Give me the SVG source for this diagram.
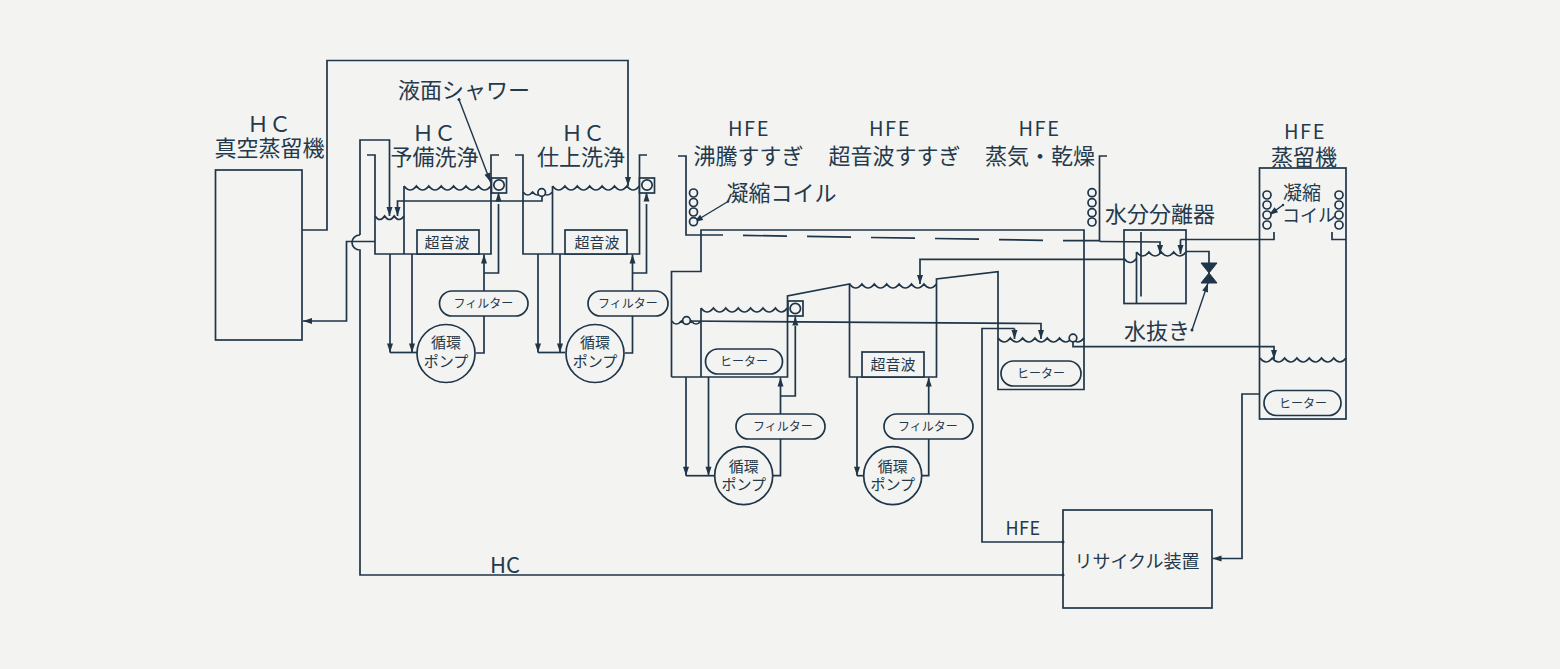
<svg xmlns="http://www.w3.org/2000/svg" width="1560" height="669" viewBox="0 0 1560 669">
<style>
text{font-family:"Noto Sans CJK JP","Noto Sans",sans-serif;fill:#24394b;text-anchor:middle}
.l{font-size:22px}.m{font-size:15px}.s{font-size:12px}.h{font-size:20px;letter-spacing:1.5px}.h2{font-size:18px;letter-spacing:.5px}.r{font-size:18px}.k{font-size:19px}
.w{fill:none;stroke:#1f3548;stroke-width:1.7}
.o{fill:#f3f3f1;stroke:#1f3548;stroke-width:1.7}
.c{fill:none;stroke:#1f3548;stroke-width:1.7}
.a{fill:none;stroke:#1f3548;stroke-width:1.7;marker-end:url(#ah)}
.ld{fill:none;stroke:#1f3548;stroke-width:1.4;marker-end:url(#ah)}
.d{fill:#1f3548}
</style>
<defs>
<marker id="ah" markerUnits="userSpaceOnUse" markerWidth="11" markerHeight="8" refX="10" refY="4" orient="auto"><path d="M1 1L10 4L1 7Z" fill="#1f3548"/></marker>
</defs>
<rect width="1560" height="669" fill="#f3f3f1"/>

<g id="connectors">
<path class="c" d="M302 230H327V60.500H628V186" marker-end="url(#ah)"/>
<path class="a" d="M360 235V140H389.500V216"/>
<path class="c" d="M360 235A8 7.500 0 0 0 360 250V575H1063"/>
<path class="a" d="M375 241.500H346.500V321H303"/>
<path class="a" d="M542 193V201H397.500V216"/>
<path class="a" d="M390 254V352.500"/>
<path class="a" d="M412 254V352.500"/>
<path class="c" d="M390 352.500H417"/>
<path class="a" d="M476 353H484V254.500"/>
<path class="c" d="M484 273H498.500V204"/>
<path class="a" d="M498.500 201V192.500"/>
<path class="a" d="M538 254V352.500"/>
<path class="a" d="M560 254V352.500"/>
<path class="c" d="M538 352.500H565"/>
<path class="a" d="M625 353H632.500V254.500"/>
<path class="c" d="M632.500 273H646.500V204"/>
<path class="a" d="M646.500 201V192.500"/>
<path class="a" d="M686 377V475.700"/>
<path class="a" d="M708.500 377V475.700"/>
<path class="c" d="M686 475.700H714"/>
<path class="a" d="M773 475.700H780.500V377.500"/>
<path class="c" d="M780.500 396H795.300V326"/>
<path class="a" d="M795.300 323V316.500"/>
<path class="a" d="M857 377V475.700"/>
<path class="c" d="M857 475.700H863"/>
<path class="a" d="M922 475.700H928.700V377.500"/>
<path class="a" d="M686.500 321L1041 323.500V339"/>
<path class="c" d="M1063 542H982V328.500H1014.500"/>
<path class="a" d="M1014.500 328.500V339"/>
<path class="a" d="M1073 338V346.700H1274V359"/>
<path class="a" d="M1124 259.400H920V284"/>
<path class="c" d="M678 156H686V235H723M743 235.400L787 236.100M807 236.400L851 237.100M871 237.500L915 238.200M935 238.500L979 239.200M999 239.600L1043 240.300M1063 240.600H1100"/>
<path class="c" d="M1107 156H1099.500V241.500"/>
<path class="a" d="M1100 241.500L1160 242V254"/>
<path class="c" d="M1274 232V239.500H1180.500"/>
<path class="a" d="M1180.500 239.500V254"/>
<path class="c" d="M1332 232V239.500H1346"/>
<path class="c" d="M1186 251.500H1209V263"/>
<path class="a" d="M1259.500 394H1242V558.500H1212.500"/>
<path class="ld" d="M728 201.500L694 222"/>
<path class="ld" d="M1283 205L1269 215"/>
<path class="ld" d="M1192 330L1208 283"/>
<path class="ld" d="M459 99.500L490.500 182"/>
<circle class="d" cx="728" cy="201.500" r="1.200"/>
<circle class="d" cx="1283" cy="205" r="1.200"/>
<circle class="d" cx="1192" cy="330" r="1.500"/>
<circle class="d" cx="459" cy="99.500" r="1.500"/>
<circle class="d" cx="1063" cy="542" r="1.500"/>
<circle class="d" cx="1063" cy="575" r="1.500"/>
</g>

<g id="hc-vacuum-still"><rect class="o" x="215.500" y="170" width="86.500" height="170"/>
<text class="l" x="269" y="132">ＨＣ</text><text class="l" x="269.500" y="156">真空蒸留機</text></g>

<g id="hc-pre-wash">
<path class="w" d="M367 155H375V254H491V155H499M404 254V186"/>
<path class="w" d="M404 186q6.200 8 12.400 0q6.200 8 12.400 0q6.200 8 12.400 0q6.200 8 12.400 0q6.200 8 12.400 0q6.200 8 12.400 0q6.200 8 12.400 0"/>
<path class="w" d="M375 216q4.800 7 9.600 0q4.800 7 9.600 0q4.800 7 9.800 0"/>
<rect class="o" x="417" y="230" width="62" height="24"/><text class="m" x="447" y="248">超音波</text>
<rect class="o" x="491.500" y="178" width="15" height="15"/><circle class="o" cx="499" cy="185" r="5.200"/>
<text class="l" x="434" y="141">ＨＣ</text><text class="l" x="434.500" y="165">予備洗浄</text></g>

<g id="hc-pre-pump"><rect class="o" x="439.500" y="291" width="88.500" height="25" rx="12.500"/><text class="s" x="483.500" y="308">フィルター</text>
<circle class="o" cx="446" cy="353.500" r="29"/><text class="m" x="446" y="348">循環</text><text class="m" x="446" y="367">ポンプ</text></g>

<g id="hc-finish-wash">
<path class="w" d="M515 155H523V254H639.500V155H647M552.500 254V186"/>
<path class="w" d="M552.500 186q6.200 8 12.400 0q6.200 8 12.400 0q6.200 8 12.400 0q6.200 8 12.400 0q6.200 8 12.400 0q6.200 8 12.400 0q6.200 8 12.400 0"/>
<path class="w" d="M523 192q4.800 6 9.600 0q4.800 6 9.600 0q4.800 6 10.300 0"/>
<circle class="o" cx="541.700" cy="192.500" r="3.800"/>
<rect class="o" x="565" y="230" width="62" height="24"/><text class="m" x="597" y="248">超音波</text>
<rect class="o" x="639.500" y="178" width="15" height="15"/><circle class="o" cx="647" cy="185" r="5.200"/>
<text class="l" x="583" y="141">ＨＣ</text><text class="l" x="581" y="165">仕上洗浄</text></g>

<g id="hc-finish-pump"><rect class="o" x="588" y="291" width="80" height="25" rx="12.500"/><text class="s" x="628" y="308">フィルター</text>
<circle class="o" cx="595" cy="353.500" r="29"/><text class="m" x="595" y="348">循環</text><text class="m" x="595" y="367">ポンプ</text></g>

<g id="hfe-tank">
<path class="w" d="M671.500 377V271.500H701V230H1084V389.500H998V271.700L936.500 279V377H849.500V284L787.500 296V377H671.500M701 308V377"/>
<path class="w" d="M701 308q6.200 8 12.400 0q6.200 8 12.400 0q6.200 8 12.400 0q6.200 8 12.400 0q6.200 8 12.400 0q6.200 8 12.400 0q6.200 8 11.900 0"/>
<path class="w" d="M671.500 321q4.900 6 9.800 0q4.900 6 9.800 0q4.900 6 9.900 0"/>
<path class="w" d="M849.500 284q6.200 8 12.400 0q6.200 8 12.400 0q6.200 8 12.400 0q6.200 8 12.400 0q6.200 8 12.400 0q6.200 8 12.400 0q6.200 8 12.600 0"/>
<path class="w" d="M998 338q6.100 8 12.300 0q6.100 8 12.300 0q6.100 8 12.300 0q6.100 8 12.300 0q6.100 8 12.300 0q6.100 8 12.300 0q6.100 8 12.200 0"/>
<circle class="o" cx="686.500" cy="320.500" r="3.800"/>
<circle class="o" cx="1073" cy="338" r="3.800"/>
<rect class="o" x="788" y="301" width="15" height="15"/><circle class="o" cx="795.300" cy="308.500" r="5.200"/>
<rect class="o" x="705.500" y="349" width="77" height="25" rx="12.500"/><text class="s" x="744" y="366">ヒーター</text>
<rect class="o" x="862" y="352" width="62" height="25"/><text class="m" x="893" y="370">超音波</text>
<rect class="o" x="1001" y="361" width="80" height="25" rx="12.500"/><text class="s" x="1041" y="378">ヒーター</text>
<text class="h" x="749" y="136">HFE</text><text class="l" x="748.500" y="164">沸騰すすぎ</text>
<text class="h" x="890" y="136">HFE</text><text class="l" x="894.500" y="164">超音波すすぎ</text>
<text class="h" x="1039.500" y="136">HFE</text><text class="l" x="1040" y="164">蒸気・乾燥</text>
<g><circle class="o" cx="693.500" cy="193" r="4"/><circle class="o" cx="693.500" cy="202.500" r="4"/><circle class="o" cx="693.500" cy="212" r="4"/><circle class="o" cx="693.500" cy="221.700" r="4"/></g>
<g><circle class="o" cx="1092" cy="192.700" r="4"/><circle class="o" cx="1092" cy="202.700" r="4"/><circle class="o" cx="1092" cy="212.700" r="4"/><circle class="o" cx="1092" cy="222" r="4"/></g>
<text class="l" x="781.500" y="201">凝縮コイル</text></g>

<g id="hfe-rinse-pump-1"><rect class="o" x="736" y="414" width="89" height="25" rx="12.500"/><text class="s" x="783" y="431">フィルター</text>
<circle class="o" cx="743.700" cy="475.700" r="29"/><text class="m" x="743.700" y="472">循環</text><text class="m" x="743.700" y="490">ポンプ</text></g>

<g id="hfe-rinse-pump-2"><rect class="o" x="884" y="414" width="89" height="25" rx="12.500"/><text class="s" x="928" y="431">フィルター</text>
<circle class="o" cx="892.700" cy="475.700" r="29"/><text class="m" x="892.700" y="472">循環</text><text class="m" x="892.700" y="490">ポンプ</text></g>

<g id="water-separator"><rect class="w" x="1124" y="230" width="62" height="73.500"/>
<path class="w" d="M1136.500 303.500V252M1141 232V296.500"/>
<path class="w" d="M1136.500 252q6.200 8 12.400 0q6.200 8 12.400 0q6.200 8 12.400 0q6.200 8 12.300 0"/>
<path class="w" d="M1124 258.500q6.200 8 12.500 0"/>
<text class="l" x="1160" y="222">水分分離器</text>
<path class="d" d="M1201 263H1217L1201 283H1217Z" stroke="#1f3548" stroke-width="1"/>
<text class="l" x="1157" y="339">水抜き</text></g>

<g id="hfe-still"><rect class="w" x="1259.500" y="168" width="86.500" height="251"/>
<path class="w" d="M1260 358q6.100 8 12.300 0q6.100 8 12.300 0q6.100 8 12.300 0q6.100 8 12.300 0q6.100 8 12.300 0q6.100 8 12.300 0q6.100 8 12.200 0"/>
<g><circle class="o" cx="1267" cy="195" r="4"/><circle class="o" cx="1267" cy="205" r="4"/><circle class="o" cx="1267" cy="215" r="4"/><circle class="o" cx="1267" cy="225" r="4"/></g>
<g><circle class="o" cx="1339" cy="195" r="4"/><circle class="o" cx="1339" cy="205" r="4"/><circle class="o" cx="1339" cy="215" r="4"/><circle class="o" cx="1339" cy="225" r="4"/></g>
<rect class="o" x="1264" y="390.500" width="77" height="25" rx="12.500"/><text class="s" x="1303" y="408">ヒーター</text>
<text class="h" x="1305" y="139">HFE</text><text class="l" x="1304" y="165">蒸留機</text>
<text class="k" x="1302" y="200">凝縮</text><text class="r" x="1309" y="222">コイル</text></g>

<g id="recycler"><rect class="w" x="1063" y="510" width="149" height="98"/>
<text class="r" x="1137" y="568">リサイクル装置</text></g>

<g id="line-labels">
<text class="l" x="464" y="98">液面シャワー</text>
<text class="l" x="505" y="573">HC</text>
<text class="h2" x="1023" y="535">HFE</text></g>
</svg>
